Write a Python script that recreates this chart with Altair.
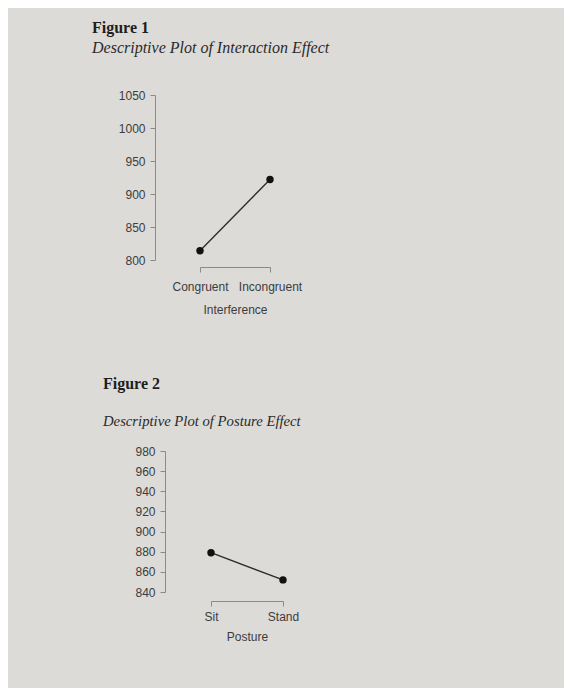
import altair as alt
import pandas as pd

interference = ["Congruent", "Incongruent"]
interference_rt = [814, 922]
posture = ["Sit", "Stand"]
posture_rt = [879, 852]
y1_ticks = [800, 850, 900, 950, 1000, 1050]
y2_ticks = [840, 860, 880, 900, 920, 940, 960, 980]

df1 = pd.DataFrame({"Interference": interference, "RT": interference_rt})
df2 = pd.DataFrame({"Posture": posture, "RT": posture_rt})

BG = "#dddbd8"
AX = "#8a8a8a"
TXT = "#3c3c3c"

def axis_x(offset, lpad, tpad):
    return alt.Axis(offset=offset, domainColor=AX, tickColor=AX, tickSize=5,
                    labelAngle=0, labelFont="Liberation Sans", labelFontSize=12,
                    labelColor=TXT, labelPadding=lpad, titleFont="Liberation Sans",
                    titleFontSize=12, titleFontWeight="normal", titleColor=TXT,
                    titlePadding=tpad, grid=False, labelOverlap=False)

def axis_y(offset, vals):
    return alt.Axis(offset=offset, values=vals, format="d", domainColor=AX, tickColor=AX,
                    tickSize=5, labelFont="Liberation Sans", labelFontSize=12, labelColor=TXT,
                    labelPadding=5, title=None, grid=False)

def fig(df, cat, cats, ydom, yvals, width, height, xrange, xoff, yoff, lpad, tpad,
        title, sub, subsize, subpad, dx, toff):
    base = alt.Chart(df).encode(
        x=alt.X(f"{cat}:N", sort=cats, title=cat,
                scale=alt.Scale(type="point", padding=0, range=xrange),
                axis=axis_x(xoff, lpad, tpad)),
        y=alt.Y("RT:Q", scale=alt.Scale(domain=ydom, nice=False, zero=False),
                axis=axis_y(yoff, yvals)),
    )
    line = base.mark_line(color="#2a2a2a", strokeWidth=1.3)
    pts = base.mark_point(filled=True, color="#111111", size=55, opacity=1)
    return (line + pts).properties(
        width=width, height=height,
        title=alt.TitleParams(text=title, subtitle=sub, anchor="start", frame="group",
                              font="Liberation Serif", fontSize=16, fontWeight="bold",
                              color="#1e1e1e", subtitleFont="Liberation Serif",
                              subtitleFontSize=subsize, subtitleFontStyle="italic",
                              subtitleColor="#2a2a2a", subtitlePadding=subpad,
                              dx=dx, offset=toff),
    )

c1 = fig(df1, "Interference", interference, [800, 1050], y1_ticks, 83, 165, [0, 70], 7, 45, 9, 12,
         "Figure 1", "Descriptive Plot of Interaction Effect", 16, 4, -108, 33)
c2 = fig(df2, "Posture", posture, [840, 980], y2_ticks, 83, 141, [11, 83], 9, 35, 5, 9,
         "Figure 2", "Descriptive Plot of Posture Effect", 14.7, 22, -97, 16)

chart = alt.vconcat(c1, c2, spacing=61).properties(
    background=BG, padding={"left": 84, "top": 12, "right": 234, "bottom": 46}
).configure_view(stroke=None)

chart.save("out.html", embed_options={"renderer": "svg", "actions": False})
